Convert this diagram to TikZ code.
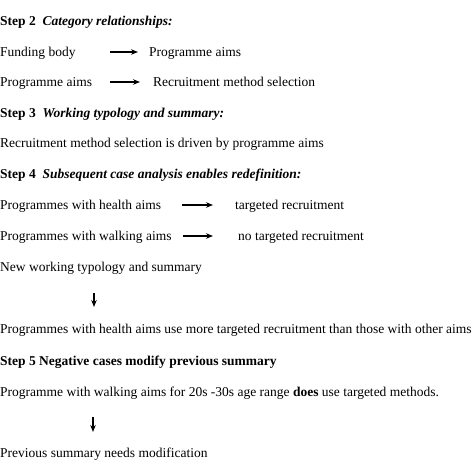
\documentclass[tikz,border=0pt]{standalone}
\usepackage{fontspec}
\setmainfont{Liberation Serif}
\usetikzlibrary{arrows.meta}
\begin{document}
\begin{tikzpicture}[x=1pt,y=-1pt,
  txt/.style={anchor=base west,inner sep=0pt,font=\fontsize{13.5}{15}\selectfont},
  conn/.style={-{Stealth[length=7pt,width=5.5pt]},line width=1.3pt}]
\useasboundingbox (0,0) rectangle (474,474);
\node[txt] (s2) at (0,25) {\textbf{Step 2\ \ \textit{Category relationships:}}};
\node[txt] (fb) at (0,56) {Funding body};
\node[txt] (pa1) at (149,56) {Programme aims};
\coordinate (a1s) at (110,52); \coordinate (a1e) at (138,52);
\draw[conn] (a1s) -- (a1e);
\node[txt] (pa2) at (0,86) {Programme aims};
\node[txt] (rms) at (153,86) {Recruitment method selection};
\coordinate (a2s) at (110,82); \coordinate (a2e) at (140,82);
\draw[conn] (a2s) -- (a2e);
\node[txt] (s3) at (0,117) {\textbf{Step 3\ \ \textit{Working typology and summary:}}};
\node[txt] (rdr) at (0,147) {Recruitment method selection is driven by programme aims};
\node[txt] (s4) at (0,178) {\textbf{Step 4\ \ \textit{Subsequent case analysis enables redefinition:}}};
\node[txt] (ph) at (0,209) {Programmes with health aims};
\node[txt] (tr) at (235,209) {targeted recruitment};
\coordinate (a3s) at (182,205); \coordinate (a3e) at (213,205);
\draw[conn] (a3s) -- (a3e);
\node[txt] (pw) at (0,240) {Programmes with walking aims};
\node[txt] (ntr) at (238,240) {no targeted recruitment};
\coordinate (a4s) at (183,236); \coordinate (a4e) at (213,236);
\draw[conn] (a4s) -- (a4e);
\node[txt] (nw) at (0,271) {New working typology and summary};
\coordinate (d1s) at (94,293); \coordinate (d1e) at (94,307);
\draw[conn] (d1s) -- (d1e);
\node[txt] (phm) at (0,333) {Programmes with health aims use more targeted recruitment than those with other aims};
\node[txt] (s5) at (0,365) {\textbf{Step 5 Negative cases modify previous summary}};
\node[txt] (pwa) at (0,396) {Programme with walking aims for 20s -30s age range \textbf{does} use targeted methods.};
\coordinate (d2s) at (93,417); \coordinate (d2e) at (93,432);
\draw[conn] (d2s) -- (d2e);
\node[txt] (psm) at (0,457) {Previous summary needs modification};
\end{tikzpicture}
\end{document}
